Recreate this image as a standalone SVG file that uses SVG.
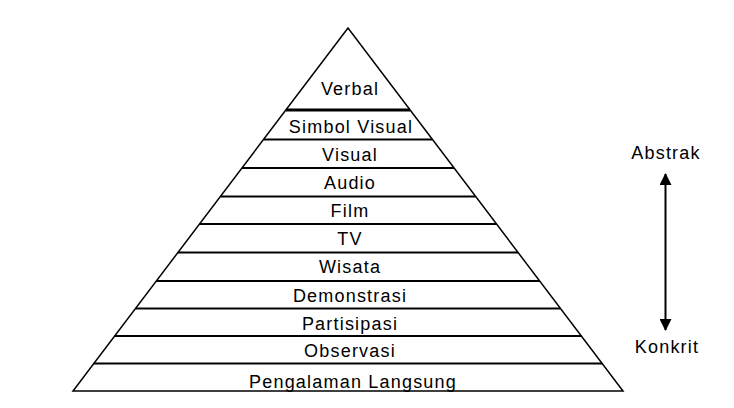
<svg xmlns="http://www.w3.org/2000/svg" width="734" height="408" viewBox="0 0 734 408">
  <style>
    .lbl { font-family: "Liberation Sans", Arial, sans-serif; font-size: 18px; letter-spacing: 1.2px; fill: #000; text-anchor: middle; }
    .band { stroke: #000; stroke-width: 2; }
    .edge { fill: none; stroke: #000; stroke-width: 1.5; stroke-linejoin: miter; }
  </style>
  <defs>
    <marker id="ah" viewBox="0 0 12 12" refX="11" refY="6" markerWidth="12" markerHeight="12" markerUnits="userSpaceOnUse" orient="auto-start-reverse">
      <path d="M0,0 L12,6 L0,12 Z" fill="#000"/>
    </marker>
  </defs>
  <rect width="734" height="408" fill="#fff"/>
  <g id="pyramid">
    <polygon class="edge" points="348,28 73,391 623,391"/>
  </g>
  <g id="verbal">
    <line class="band" x1="285.9" y1="110" x2="410.1" y2="110" style="stroke-width:3"/>
    <text class="lbl" x="350" y="95">Verbal</text>
  </g>
  <g id="simbol-visual">
    <line class="band" x1="263.5" y1="139.5" x2="432.5" y2="139.5"/>
    <text class="lbl" x="351" y="133">Simbol Visual</text>
  </g>
  <g id="visual">
    <line class="band" x1="241.9" y1="168" x2="454.1" y2="168"/>
    <text class="lbl" x="350" y="161">Visual</text>
  </g>
  <g id="audio">
    <line class="band" x1="220.4" y1="196.5" x2="475.6" y2="196.5"/>
    <text class="lbl" x="350" y="189">Audio</text>
  </g>
  <g id="film">
    <line class="band" x1="199.5" y1="224" x2="496.5" y2="224"/>
    <text class="lbl" x="350" y="217">Film</text>
  </g>
  <g id="tv">
    <line class="band" x1="177.9" y1="252.5" x2="518.1" y2="252.5"/>
    <text class="lbl" x="350" y="245">TV</text>
  </g>
  <g id="wisata">
    <line class="band" x1="156.3" y1="281" x2="539.7" y2="281"/>
    <text class="lbl" x="350" y="273">Wisata</text>
  </g>
  <g id="demonstrasi">
    <line class="band" x1="135.5" y1="308.5" x2="560.5" y2="308.5"/>
    <text class="lbl" x="350" y="302">Demonstrasi</text>
  </g>
  <g id="partisipasi">
    <line class="band" x1="114.7" y1="336" x2="581.3" y2="336"/>
    <text class="lbl" x="350" y="330">Partisipasi</text>
  </g>
  <g id="observasi">
    <line class="band" x1="93.8" y1="363.5" x2="602.2" y2="363.5"/>
    <text class="lbl" x="350" y="357">Observasi</text>
  </g>
  <g id="pengalaman-langsung">
    <text class="lbl" x="353" y="388">Pengalaman Langsung</text>
  </g>
  <g id="abstrak">
    <text class="lbl" x="666" y="159">Abstrak</text>
  </g>
  <g id="konkrit">
    <text class="lbl" x="667" y="353">Konkrit</text>
  </g>
  <g id="connectors">
    <line x1="665.5" y1="174" x2="665.5" y2="330" stroke="#000" stroke-width="2" marker-start="url(#ah)" marker-end="url(#ah)"/>
  </g>
</svg>
